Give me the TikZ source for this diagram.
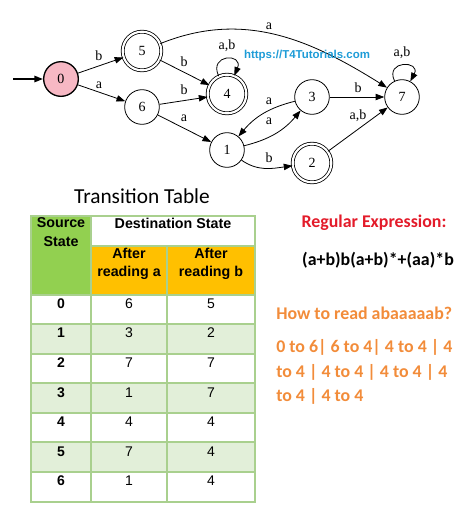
\documentclass[tikz,border=0pt]{standalone}
\usepackage{fontspec}
\setmainfont{Liberation Serif}
\setsansfont{Liberation Sans}
\newfontfamily\calibri{Carlito}
\usetikzlibrary{arrows.meta}
\definecolor{pinkfill}{HTML}{F7B8C4}
\definecolor{hdrgreen}{HTML}{92D050}
\definecolor{hdrorange}{HTML}{FFC000}
\definecolor{rowgreen}{HTML}{E2EFD9}
\definecolor{gridgreen}{HTML}{A9D08E}
\definecolor{urlblue}{HTML}{1E9CD7}
\definecolor{rexred}{HTML}{E31B2A}
\definecolor{howorange}{HTML}{F28C3A}
\begin{document}
\begin{tikzpicture}[x=0.75pt,y=-0.75pt,
  state/.style={circle,draw,line width=0.6pt,minimum size=26pt,inner sep=0pt,font=\fontsize{10.5}{12}\selectfont},
  acc/.style={state,double,double distance=1.6pt,minimum size=29pt},
  edge/.style={-{Triangle[length=6.5pt,width=4.8pt]},line width=0.6pt},
  lbl/.style={font=\fontsize{10.5}{12}\selectfont,inner sep=0pt},
  cell/.style={font=\sffamily\fontsize{10.5}{12.5}\selectfont,inner sep=0pt,align=center},
  hcell/.style={cell,font=\sffamily\bfseries\fontsize{10.7}{13.8}\selectfont},
  rtext/.style={font=\calibri\bfseries\fontsize{13.4}{18.6}\selectfont,inner sep=0pt}
]
\useasboundingbox (0,0) rectangle (474,508);

% ---------------- automaton ----------------
\node[state,fill=pinkfill,line width=1pt] (n0) at (61,79) {0};
\node[acc] (n5) at (142,51) {5};
\node[state] (n6) at (142,107) {6};
\node[acc] (n4) at (227,94) {4};
\node[state] (n1) at (227,150) {1};
\node[state] (n3) at (312,97) {3};
\node[state] (n7) at (402,97) {7};
\node[acc] (n2) at (312,163) {2};
\coordinate (init) at (13,79);

\draw[edge,line width=1.2pt] (init) -- (n0);
\draw[edge] (n0) -- (n5);
\draw[edge] (n0) -- (n6);
\draw[edge] (n5) -- (n4);
\draw[edge] (n6) -- (n4);
\draw[edge] (n6) -- (n1);
\draw[edge] (n4) to[out=115,in=68,looseness=4] (n4);
\draw[edge] (n5) to[out=22,in=148] (n7);
\draw[edge] (n3) to[bend right=18] (n1);
\draw[edge] (n1) to[bend right=18] (n3);
\draw[edge] (n1) to[out=-35,in=188] (n2);
\draw[edge] (n3) -- (n7);
\draw[edge] (n2) -- (n7);
\draw[edge] (n7) to[out=115,in=62,looseness=3.8] (n7);

\node[lbl] (l05) at (99,56) {b};
\node[lbl] (l06) at (99,85) {a};
\node[lbl] (l54) at (184,62) {b};
\node[lbl] (l64) at (184,90) {b};
\node[lbl] (l61) at (184,118) {a};
\node[lbl] (l44) at (227,46) {a,b};
\node[lbl] (l57) at (269,26) {a};
\node[lbl] (l31) at (269,101) {a};
\node[lbl] (l13) at (269,121) {a};
\node[lbl] (l12) at (269,158) {b};
\node[lbl] (l37) at (358,88) {b};
\node[lbl] (l27) at (358,116) {a,b};
\node[lbl] (l77) at (402,53) {a,b};

\node[font=\sffamily\bfseries\fontsize{8.6}{10}\selectfont,text=urlblue,inner sep=0pt] (url) at (307,56) {https://T4Tutorials.com};

% ---------------- table ----------------
\node[font=\calibri\fontsize{16}{19}\selectfont,inner sep=0pt] (ttitle) at (142,196) {Transition Table};

\fill[hdrgreen] (31,216) rectangle (91,295);
\fill[hdrorange] (91,246) rectangle (255,295);
\fill[rowgreen] (31,324) rectangle (255,354);
\fill[rowgreen] (31,383) rectangle (255,413);
\fill[rowgreen] (31,442) rectangle (255,472);
\begin{scope}[draw=gridgreen,line width=0.9pt]
\draw (31,216) rectangle (255,502);
\draw (91,216) -- (91,502);
\draw (167,246) -- (167,502);
\draw (91,246) -- (255,246);
\foreach \yy in {295,324,354,383,413,442,472} \draw (31,\yy) -- (255,\yy);
\end{scope}

\node[hcell] (hsrc) at (61,232) {Source\\State};
\node[hcell] (hdst) at (173,223) {Destination State};
\node[hcell] (hra) at (129,264) {After\\reading a};
\node[hcell] (hrb) at (211,264) {After\\reading b};

\foreach \s/\a/\b [count=\i from 0] in {0/6/5,1/3/2,2/7/7,3/1/7,4/4/4,5/7/4,6/1/4}{
  \pgfmathsetmacro\ry{295+29.57*\i+8.5}
  \node[cell,font=\sffamily\bfseries\fontsize{10.5}{12}\selectfont] (src\i) at (61,\ry) {\s};
  \node[cell] (ca\i) at (129,\ry) {\a};
  \node[cell] (cb\i) at (211,\ry) {\b};
}

% ---------------- right text ----------------
\node[rtext,text=rexred] (rex) at (374,223) {Regular Expression:};
\node[rtext] (rexpr) at (378,260) {(a+b)b(a+b)*+(aa)*b};
\node[rtext,text=howorange,anchor=west] (how) at (276,313) {How to read abaaaaab?};
\node[rtext,text=howorange,anchor=north west,align=left] (path) at (276,339)
  {0 to 6| 6 to 4| 4 to 4 | 4\\to 4 | 4 to 4 | 4 to 4 | 4\\to 4 | 4 to 4};
\end{tikzpicture}
\end{document}
